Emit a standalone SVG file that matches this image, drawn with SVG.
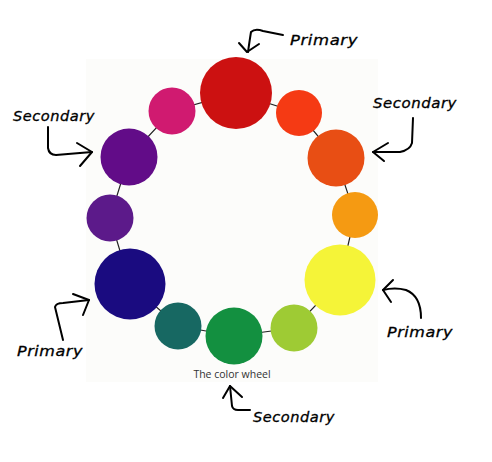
<svg xmlns="http://www.w3.org/2000/svg" width="492" height="462" viewBox="0 0 492 462">
<style>
.hand{font-family:"DejaVu Sans","Liberation Sans",sans-serif;font-style:italic;font-size:14px;fill:#000;stroke:#000;stroke-width:0.3;letter-spacing:0.5px}
.arrow{fill:none;stroke:#000;stroke-width:2;stroke-linecap:round;stroke-linejoin:round}
.link{stroke:#222;stroke-width:1.2}
.cap{font-family:"Open Sans","Liberation Sans",sans-serif;font-size:10.5px;fill:#333}
</style>
<rect width="492" height="462" fill="#ffffff"/>
<rect x="86" y="59" width="292" height="323" fill="#fcfcfa"/>
<g id="connectors">
<polygon class="link" fill="none" points="236,93 299,113 336,158 355,215 340,280 294,328 234,336 178,326 130,284 110,218 129,157 172,111"/>
</g>
<g id="red"><circle cx="236" cy="93" r="36" fill="#cc1111"/></g>
<g id="red-orange"><circle cx="299" cy="113" r="23" fill="#f53a14"/></g>
<g id="orange"><circle cx="336" cy="158" r="28.5" fill="#e84e14"/></g>
<g id="yellow-orange"><circle cx="355" cy="215" r="23" fill="#f59a12"/></g>
<g id="yellow"><circle cx="340" cy="280" r="35.5" fill="#f5f438"/></g>
<g id="yellow-green"><circle cx="294" cy="328" r="23.5" fill="#9ecb34"/></g>
<g id="green"><circle cx="234" cy="336" r="28.5" fill="#139040"/></g>
<g id="teal"><circle cx="178" cy="326" r="23.5" fill="#176862"/></g>
<g id="blue-violet"><circle cx="130" cy="284" r="35.5" fill="#1a0b80"/></g>
<g id="purple"><circle cx="110" cy="218" r="23.5" fill="#5c1a8a"/></g>
<g id="violet"><circle cx="129" cy="157" r="28.5" fill="#620c88"/></g>
<g id="magenta"><circle cx="172" cy="111" r="23.5" fill="#d01a70"/></g>
<g id="caption"><text class="cap" x="232" y="378" text-anchor="middle">The color wheel</text></g>
<g id="label-top">
<path class="arrow" d="M283,35 L263,31 Q255,28 251,32 Q250,38 248,52"/>
<path class="arrow" d="M239,43 L247,52 L259,44"/>
<text class="hand" x="290" y="45" textLength="68" lengthAdjust="spacingAndGlyphs">Primary</text>
</g>
<g id="label-left-secondary">
<path class="arrow" d="M48,127 L48,148 Q49,155 56,155 L92,152"/>
<path class="arrow" d="M77,143 L92,152 L80,166"/>
<text class="hand" x="13" y="121" textLength="82" lengthAdjust="spacingAndGlyphs">Secondary</text>
</g>
<g id="label-right-secondary">
<path class="arrow" d="M413,118 L412,143 Q410,150 400,152 L373,152"/>
<path class="arrow" d="M388,143 L373,152 L384,161"/>
<text class="hand" x="373" y="108" textLength="84" lengthAdjust="spacingAndGlyphs">Secondary</text>
</g>
<g id="label-bottom-left">
<path class="arrow" d="M63,340 L55,307 Q56,303 63,303 L89,300"/>
<path class="arrow" d="M73,294 L89,300 L83,315"/>
<text class="hand" x="17" y="356" textLength="66" lengthAdjust="spacingAndGlyphs">Primary</text>
</g>
<g id="label-bottom-right">
<path class="arrow" d="M421,318 Q421,296 406,290 Q395,287 383,290"/>
<path class="arrow" d="M393,280 L383,290 L391,302"/>
<text class="hand" x="387" y="337" textLength="66" lengthAdjust="spacingAndGlyphs">Primary</text>
</g>
<g id="label-bottom">
<path class="arrow" d="M230,386 L232,406 Q233,410 238,410 L250,410"/>
<path class="arrow" d="M223,398 L230,386 L242,397"/>
<text class="hand" x="253" y="422" textLength="82" lengthAdjust="spacingAndGlyphs">Secondary</text>
</g>
</svg>
